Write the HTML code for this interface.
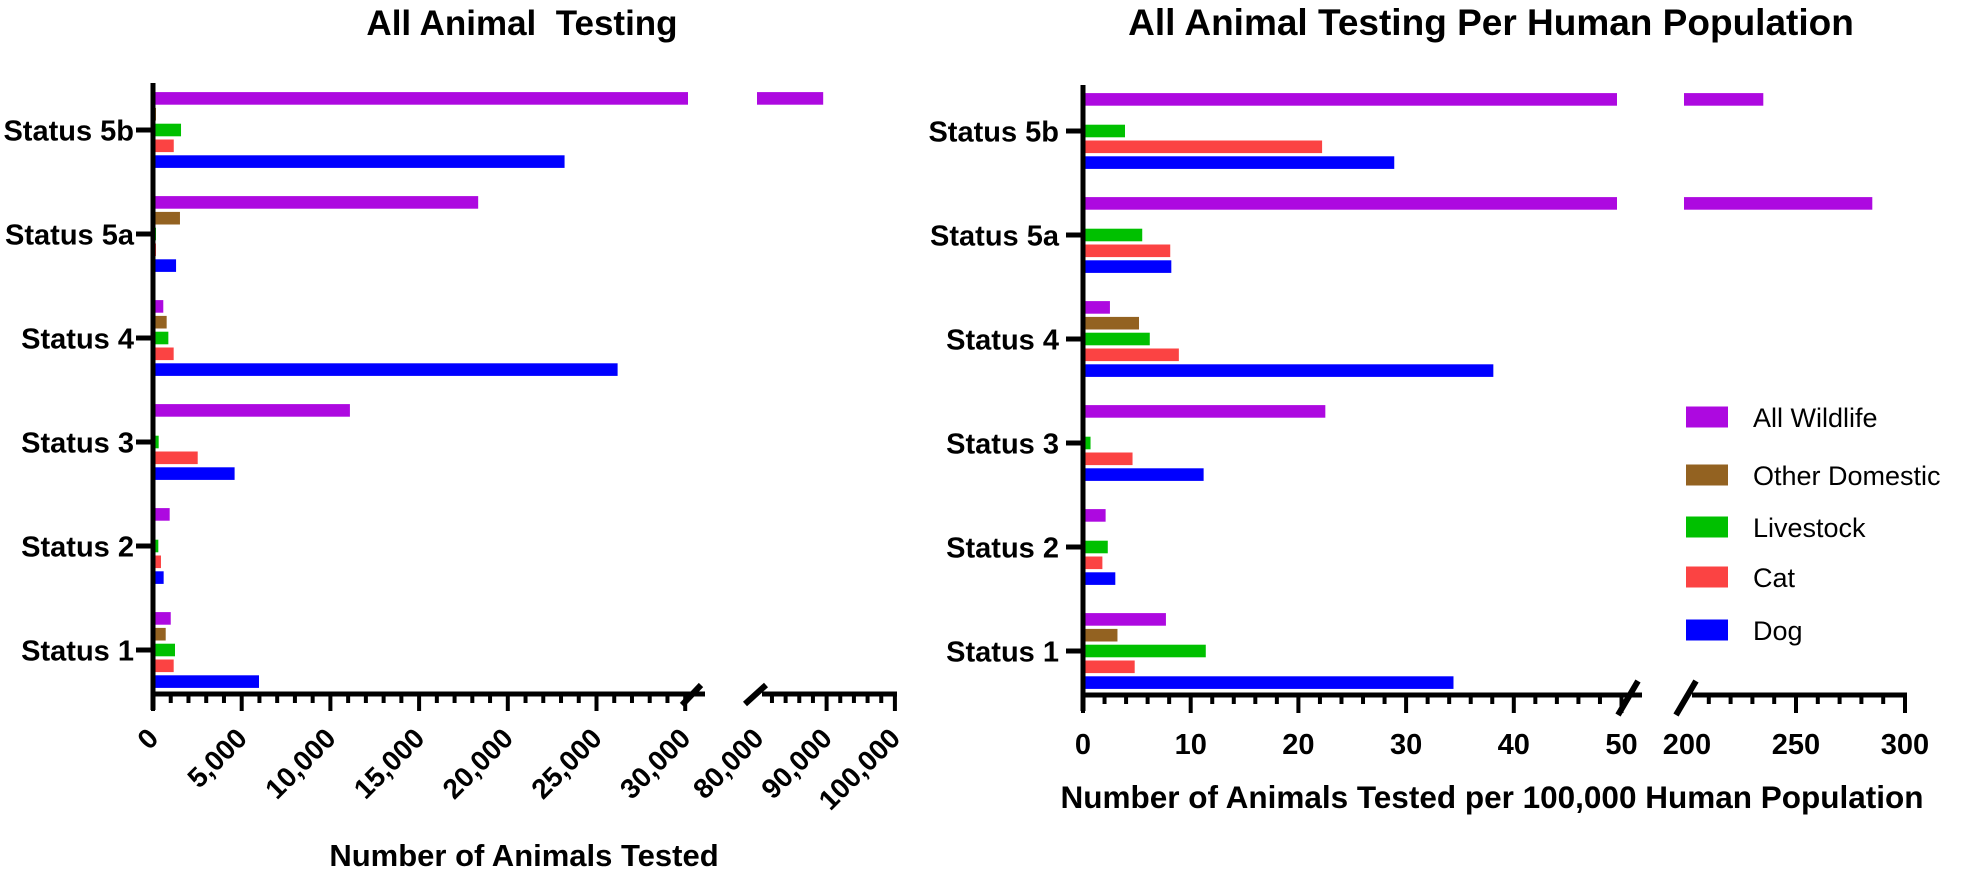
<!DOCTYPE html>
<html><head><meta charset="utf-8">
<style>
html,body{margin:0;padding:0;background:#fff;}
svg{display:block;font-family:"Liberation Sans",Arial,sans-serif;}
</style></head>
<body>
<svg id="chart" width="1973" height="878" viewBox="0 0 1973 878" xmlns="http://www.w3.org/2000/svg">
<text x="522" y="35" font-size="35" font-weight="bold" text-anchor="middle" xml:space="preserve">All Animal  Testing</text>
<text x="1491" y="35" font-size="37" font-weight="bold" text-anchor="middle">All Animal Testing Per Human Population</text>
<text x="524" y="866" font-size="31" font-weight="bold" text-anchor="middle">Number of Animals Tested</text>
<text x="1492" y="808" font-size="31.5" font-weight="bold" text-anchor="middle">Number of Animals Tested per 100,000 Human Population</text>
<g id="left"></g>
<g id="right"></g>
<g id="legend"></g>
</svg>
<script>
const categories = ["Status 5b","Status 5a","Status 4","Status 3","Status 2","Status 1"];
const seriesNames = ["All Wildlife","Other Domestic","Livestock","Cat","Dog"];
const seriesColors = ["#ad09e0","#936221","#00c000","#fb4343","#0000ff"];
const leftWildlife = [89500, 18330, 580, 11100, 940, 1000];
const leftDomestic = [100, 1520, 770, 0, 0, 716];
const leftLivestock = [1580, 100, 865, 320, 300, 1240];
const leftCat = [1170, 50, 1165, 2520, 450, 1166];
const leftDog = [23200, 1300, 26190, 4600, 600, 5975];
const rightWildlife = [235, 285, 2.5, 22.5, 2.1, 7.7];
const rightDomestic = [0, 0, 5.2, 0, 0, 3.2];
const rightLivestock = [3.9, 5.5, 6.2, 0.7, 2.3, 11.4];
const rightCat = [22.2, 8.1, 8.9, 4.6, 1.8, 4.8];
const rightDog = [28.9, 8.2, 38.1, 11.2, 3.0, 34.4];
const leftTicks1 = [0,5000,10000,15000,20000,25000,30000];
const leftTicks2 = [80000,90000,100000];
const leftTickLabels1 = ["0","5,000","10,000","15,000","20,000","25,000","30,000"];
const leftTickLabels2 = ["80,000","90,000","100,000"];
const rightTicks1 = [0,10,20,30,40,50];
const rightTicks2 = [200,250,300];

const NS="http://www.w3.org/2000/svg";
function mk(parent,tag,attrs,text){const e=document.createElementNS(NS,tag);for(const k in attrs)e.setAttribute(k,attrs[k]);if(text!==undefined)e.textContent=text;parent.appendChild(e);return e;}

function yCat(i,top){return top+i*104;}
const barOff=15.8, barH=12.6;

function xL(v){return v<=30000?153+v*0.01774:758.3+(v-80000)*0.00683;}
function xR(v){return v<=50?1083+v*10.77:1687+(v-200)*2.18;}

function drawChart(g,prefix,series,xf,axisX,axisTop,axisY,catTop,seg1End,seg2Start,brk,labelEnd){
  for(let s=0;s<5;s++){
    for(let i=0;i<categories.length;i++){
      const v=series[s][i]; if(v<=0) continue;
      const cy=yCat(i,catTop)+(s-2)*barOff;
      const x1=xf(v);
      if(v>50 && xf===xR || v>30000 && xf===xL){
        let r=mk(g,'rect',{x:axisX+2,y:cy-barH/2,width:seg1End-axisX-2,height:barH,fill:seriesColors[s]});
        
        
        let r2=mk(g,'rect',{x:seg2Start,y:cy-barH/2,width:x1-seg2Start,height:barH,fill:seriesColors[s]});
        
        
      } else {
        let r=mk(g,'rect',{x:axisX+2,y:cy-barH/2,width:Math.max(1,x1-axisX-2),height:barH,fill:seriesColors[s]});
        
        
      }
    }
  }
  let ya=mk(g,'line',{x1:axisX,y1:axisTop,x2:axisX,y2:axisY+16,stroke:'#000','stroke-width':5});
  
  
  for(let i=0;i<categories.length;i++){
    const cy=yCat(i,catTop);
    mk(g,'line',{x1:axisX-17,y1:cy,x2:axisX,y2:cy,stroke:'#000','stroke-width':5});
    let t=mk(g,'text',{x:labelEnd,y:cy+10.5,'font-size':29,'font-weight':'bold','text-anchor':'end'},categories[i]);
    
    
  }
  mk(g,'line',{x1:axisX-2,y1:axisY,x2:brk[0][2]+4,y2:axisY,stroke:'#000','stroke-width':5});
  mk(g,'line',{x1:brk[1][2]-4,y1:axisY,x2:brk[2]+2,y2:axisY,stroke:'#000','stroke-width':5});
  [brk[0],brk[1]].forEach(b=>{mk(g,'line',{x1:b[0],y1:b[1],x2:b[2],y2:b[3],stroke:'#000','stroke-width':6});});
}

const gL=document.getElementById('left');
drawChart(gL,'left',[leftWildlife,leftDomestic,leftLivestock,leftCat,leftDog],xL,153,83,694,130,688,757,
  [[682,705,701,685],[745,704,766,685],895],134);
for(let v=0;v<=30000;v+=1000){const x=xL(v);const maj=v%5000===0;mk(gL,'line',{x1:x,y1:694,x2:x,y2:maj?711:703,stroke:'#000','stroke-width':4});}
for(let v=82000;v<=100000;v+=2000){const x=xL(v);const maj=v%10000===0;mk(gL,'line',{x1:x,y1:694,x2:x,y2:maj?711:703,stroke:'#000','stroke-width':4});}
leftTicks1.forEach((v,i)=>{const x=xL(v)+7;let t=mk(gL,'text',{x:x,y:740,'font-size':28,'font-weight':'bold','text-anchor':'end',transform:`rotate(-45 ${x} 740)`},leftTickLabels1[i]);});
leftTicks2.forEach((v,i)=>{const x=xL(v)+7;let t=mk(gL,'text',{x:x,y:740,'font-size':28,'font-weight':'bold','text-anchor':'end',transform:`rotate(-45 ${x} 740)`},leftTickLabels2[i]);});

const gR=document.getElementById('right');
drawChart(gR,'right',[rightWildlife,rightDomestic,rightLivestock,rightCat,rightDog],xR,1083,85,695,131,1617,1684,
  [[1618,715,1638,681],[1676,715,1696,681],1905],1059);
for(let v=0;v<=50;v+=2){const x=xR(v);const maj=v%10===0;mk(gR,'line',{x1:x,y1:695,x2:x,y2:maj?713:704,stroke:'#000','stroke-width':4});}
for(let v=210;v<=300;v+=10){const x=xR(v);const maj=v%50===0;mk(gR,'line',{x1:x,y1:695,x2:x,y2:maj?713:704,stroke:'#000','stroke-width':4});}
rightTicks1.concat(rightTicks2).forEach(v=>{let t=mk(gR,'text',{x:xR(v),y:754,'font-size':29,'font-weight':'bold','text-anchor':'middle'},String(v));});

const gLg=document.getElementById('legend');
const legendY=[417,475,527,577,630];
seriesNames.forEach((n,i)=>{
  let r=mk(gLg,'rect',{x:1686,y:legendY[i]-10.5,width:42,height:21,fill:seriesColors[i]});
  
  
  let t=mk(gLg,'text',{x:1753,y:legendY[i]+10,'font-size':27},n);
  
  
});
</script>
</body></html>
